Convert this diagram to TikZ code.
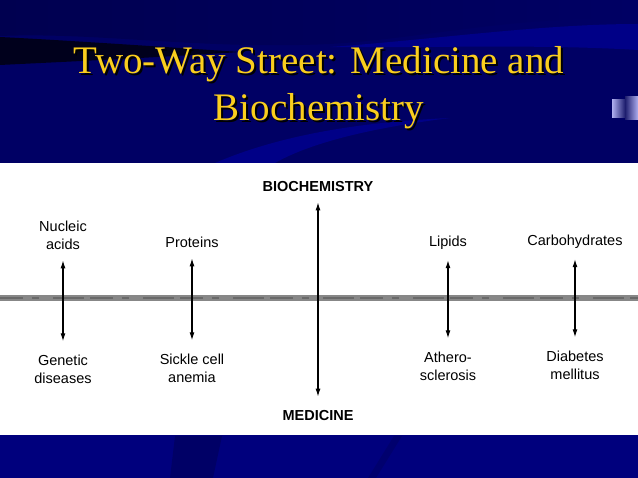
\documentclass[tikz,border=0pt]{standalone}
\usepackage{fontspec}
\setmainfont{Liberation Serif}
\setsansfont{Liberation Sans}
\usetikzlibrary{arrows.meta}

\definecolor{slidenavy}{RGB}{0,0,100}
\definecolor{slideblue}{RGB}{0,0,125}
\definecolor{slidedark}{RGB}{0,0,28}
\definecolor{slidelight}{RGB}{0,0,135}
\definecolor{streakblue}{RGB}{0,0,80}
\definecolor{titlegold}{RGB}{250,206,30}
\definecolor{roadgray}{RGB}{135,135,135}
\definecolor{roadgrain}{RGB}{105,105,105}
\definecolor{barlight}{RGB}{175,175,240}
\definecolor{bardark}{RGB}{30,30,110}

\begin{document}
\begin{tikzpicture}[x=1pt,y=-1pt,>={Latex[length=8pt,width=5pt]},
    lbl/.style={font=\sffamily\fontsize{14.5}{18}\selectfont,align=center,inner sep=0pt,anchor=base},
    pole/.style={lbl,font=\sffamily\bfseries\fontsize{14.5}{18}\selectfont},
    ttl/.style={font=\fontsize{39}{47}\selectfont,align=center,anchor=base}]
    \useasboundingbox (0,0) rectangle (638,478);

    \fill[slidenavy] (0,0) rectangle (638,163);
    \shade[left color=slidenavy!80!black, middle color=slidedark, right color=slidenavy]
      (0,0) -- (638,0) -- (638,20) .. controls (520,14) and (430,38) .. (330,44)
      .. controls (200,50) and (100,32) .. (0,36) -- cycle;
    \fill[slidedark] (0,37) .. controls (60,40) and (150,46) .. (240,52)
      .. controls (150,58) and (60,62) .. (0,65) -- cycle;
    \fill[slidelight] (330,47) .. controls (430,40) and (540,24) .. (638,24)
      -- (638,50) .. controls (540,44) and (430,48) .. (330,47) -- cycle;
    \fill[slidelight] (215,163) .. controls (280,135) and (360,122) .. (450,118)
      .. controls (370,128) and (310,143) .. (275,163) -- cycle;
    \shade[left color=barlight, right color=bardark] (612,100) rectangle (625,118);
    \shade[left color=bardark, right color=barlight] (625,97) rectangle (638,120);

    \shade[left color=slideblue, middle color=slidedark, right color=slideblue]
      (0,435) rectangle (638,478);
    \fill[streakblue, opacity=0.5] (175,436) -- (222,436) -- (213,478) -- (170,478) -- cycle;
    \fill[slidenavy, opacity=0.6] (394,436) -- (402,436) -- (376,478) -- (368,478) -- cycle;

    \node[ttl, text=black] (ttlshadow) at (321,123) {Two-Way Street: Medicine and\\Biochemistry};
    \node[ttl, text=titlegold] (ttl) at (319,121) {Two-Way Street: Medicine and\\Biochemistry};

    \fill[white] (0,163) rectangle (638,435);
    \coordinate (roadw) at (0,298);
    \coordinate (roade) at (638,298);
    \draw[roadgray, line width=6pt] (roadw) -- (roade);
    \draw[roadgrain, line width=1.5pt, dash pattern=on 23pt off 9pt on 7pt off 14pt on 31pt off 6pt] (roadw) -- (roade);

    \node[lbl] (nuc) at (63,250) {Nucleic\\acids};
    \node[lbl] (pro) at (192,248) {Proteins};
    \node[pole] (bio) at (318,192) {BIOCHEMISTRY};
    \node[lbl] (lip) at (448,247) {Lipids};
    \node[lbl] (car) at (575,246) {Carbohydrates};
    \node[lbl] (gen) at (63,384) {Genetic\\diseases};
    \node[lbl] (sic) at (192,383) {Sickle cell\\anemia};
    \node[pole] (med) at (318,421) {MEDICINE};
    \node[lbl] (ath) at (448,381) {Athero-\\sclerosis};
    \node[lbl] (dia) at (575,380) {Diabetes\\mellitus};

    \path[<->, line width=1.2pt, shorten <=10pt, shorten >=14pt]
      (nuc) edge (gen)
      (pro) edge (sic)
      (bio) edge (med)
      (lip) edge (ath)
      (car) edge (dia)
    ;
  \end{tikzpicture}
\end{document}
